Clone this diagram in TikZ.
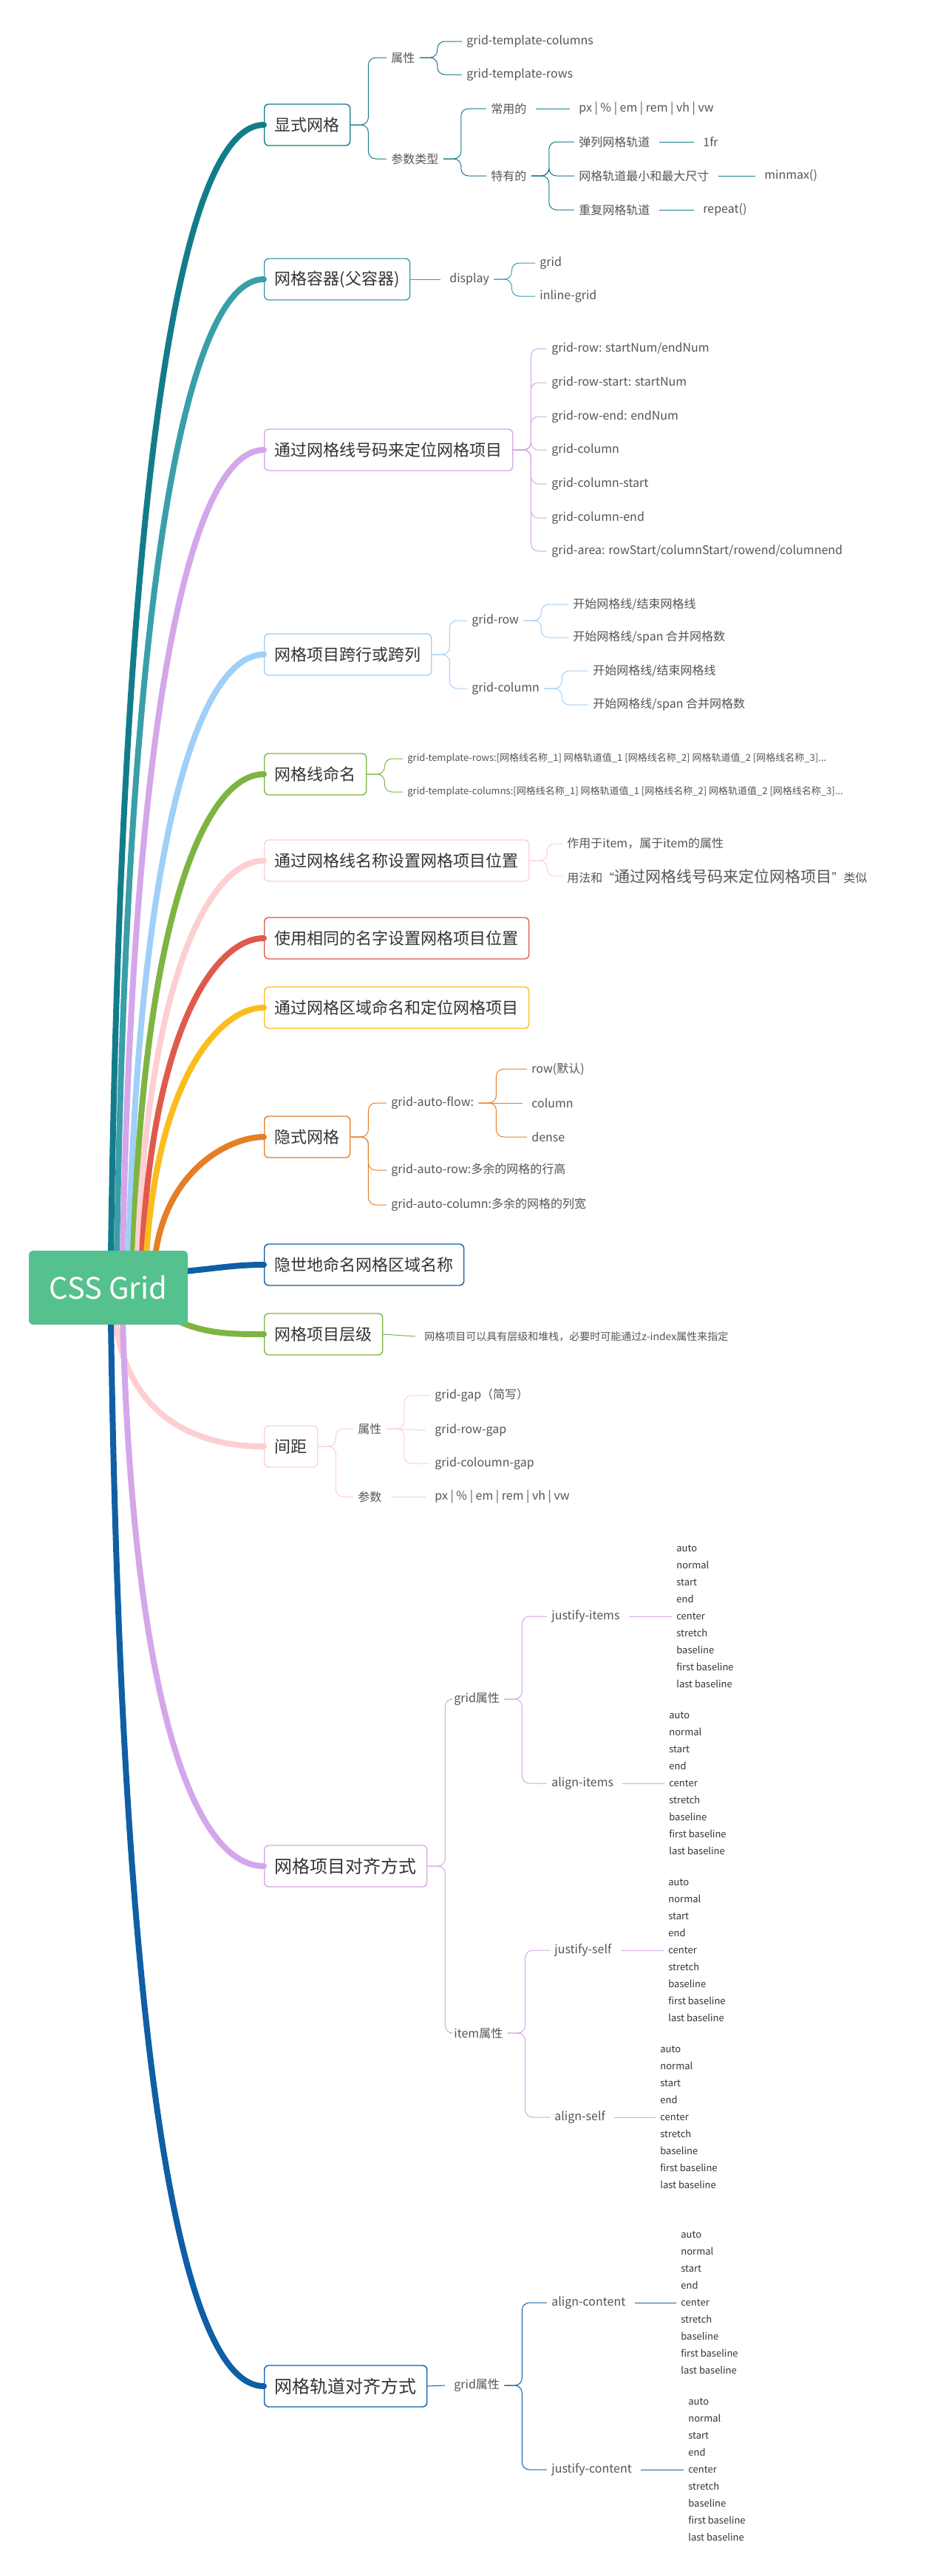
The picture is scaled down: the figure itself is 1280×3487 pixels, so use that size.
\documentclass[tikz,border=0pt]{standalone}
\usepackage{fontspec}
\setmainfont{Noto Sans CJK SC}
\definecolor{ca}{HTML}{137C8B}
\definecolor{cb}{HTML}{3A9FA8}
\definecolor{cc}{HTML}{D4A6EA}
\definecolor{cd}{HTML}{A0CFF7}
\definecolor{ce}{HTML}{7DB442}
\definecolor{cf}{HTML}{FDCFD1}
\definecolor{cg}{HTML}{E05A4B}
\definecolor{ch}{HTML}{FBBD1D}
\definecolor{ci}{HTML}{E57E25}
\definecolor{cj}{HTML}{0F5EA6}
\definecolor{rootc}{HTML}{55C18E}
\definecolor{boxt}{HTML}{333333}
\definecolor{subt}{HTML}{555555}
\newcommand\brc[3]{\draw[subl,draw=#1] (#2.east) -- ++(24,0) |- (#3.west);}
\newcommand\slc[3]{\draw[subl,draw=#1] ([xshift=3pt]#2.east) -- ([xshift=-3pt]#3.west);}
\newcommand\slb[3]{\draw[subl,draw=#1] (#2.east) -- ([xshift=-3pt]#3.west);}
\newcommand\mb[5]{\coordinate (s#5) at (#2,#3);
 \draw[mainb,draw=#1] (s#5) .. controls ({#2+15},{#4+0.28*(#3-#4)}) and ({#2+100},#4) .. (#5.west);}
\newcommand\alist{auto\\normal\\start\\end\\center\\stretch\\baseline\\first baseline\\last baseline}
\begin{document}
\begin{tikzpicture}[x=0.5pt,y=-0.5pt,
  box/.style={draw=#1, fill=white, rounded corners=3pt, line width=0.7pt, anchor=west,
    minimum height=28pt, inner xsep=7pt, text=boxt, font=\fontsize{11}{13}\selectfont},
  bigbox/.style={box=#1, font=\fontsize{12}{14}\selectfont},
  t/.style={anchor=west, inner sep=3pt, text=subt, font=\fontsize{8}{10}\selectfont},
  ts/.style={t, font=\fontsize{6.5}{8}\selectfont},
  vals/.style={anchor=west, inner sep=0pt, align=left, text=boxt, font=\fontsize{6.5}{11.5}\selectfont},
  subl/.style={line width=0.5pt, rounded corners=5pt},
  mainb/.style={line width=4pt, line cap=round}]
\useasboundingbox (0,0) rectangle (1280,3487);
\fill[white] (0,0) rectangle (1280,3487);
% B1
\node[box=ca] (b1) at (357,169) {显式网格};
\node[t] (a1) at (523,78) {属性};
\node[t] (a11) at (625,56) {grid-template-columns};
\node[t] (a12) at (625,101) {grid-template-rows};
\node[t] (a2) at (523,215) {参数类型};
\node[t] (a21) at (658,147) {常用的};
\node[t] (a211) at (777,147) {px | \% | em | rem | vh | vw};
\node[t] (a22) at (658,238) {特有的};
\node[t] (a221) at (777,192) {弹列网格轨道};
\node[t] (a2211) at (945,192) {1fr};
\node[t] (a222) at (777,238) {网格轨道最小和最大尺寸};
\node[t] (a2221) at (1028,238) {minmax()};
\node[t] (a223) at (777,284) {重复网格轨道};
\node[t] (a2231) at (945,284) {repeat()};
\brc{ca}{b1}{a1}\brc{ca}{b1}{a2}\brc{ca}{a1}{a11}\brc{ca}{a1}{a12}
\brc{ca}{a2}{a21}\brc{ca}{a2}{a22}\slc{ca}{a21}{a211}
\brc{ca}{a22}{a221}\brc{ca}{a22}{a222}\brc{ca}{a22}{a223}
\slc{ca}{a221}{a2211}\slc{ca}{a222}{a2221}\slc{ca}{a223}{a2231}
% B2
\node[box=cb] (b2) at (357,378) {网格容器(父容器)};
\node[t] (d1) at (602,378) {display};
\node[t] (d11) at (724,356) {grid};
\node[t] (d12) at (724,401) {inline-grid};
\slb{cb}{b2}{d1}\brc{cb}{d1}{d11}\brc{cb}{d1}{d12}
% B3
\node[box=cc] (b3) at (357,609) {通过网格线号码来定位网格项目};
\node[t] (n1) at (740,472) {grid-row: startNum/endNum};
\node[t] (n2) at (740,518) {grid-row-start: startNum};
\node[t] (n3) at (740,564) {grid-row-end: endNum};
\node[t] (n4) at (740,609) {grid-column};
\node[t] (n5) at (740,655) {grid-column-start};
\node[t] (n6) at (740,701) {grid-column-end};
\node[t] (n7) at (740,746) {grid-area: rowStart/columnStart/rowend/columnend};
\foreach \k in {1,...,7}{\brc{cc}{b3}{n\k}}
% B4
\node[box=cd] (b4) at (357,886) {网格项目跨行或跨列};
\node[t] (r1) at (632,840) {grid-row};
\node[t] (r11) at (769,818) {开始网格线/结束网格线};
\node[t] (r12) at (769,863) {开始网格线/span 合并网格数};
\node[t] (r2) at (632,932) {grid-column};
\node[t] (r21) at (796,908) {开始网格线/结束网格线};
\node[t] (r22) at (796,954) {开始网格线/span 合并网格数};
\brc{cd}{b4}{r1}\brc{cd}{b4}{r2}\brc{cd}{r1}{r11}\brc{cd}{r1}{r12}\brc{cd}{r2}{r21}\brc{cd}{r2}{r22}
% B5
\node[box=ce] (b5) at (357,1048) {网格线命名};
\node[ts] (m1) at (545,1027) {grid-template-rows:[网格线名称\_1] 网格轨道值\_1 [网格线名称\_2] 网格轨道值\_2 [网格线名称\_3]...};
\node[ts] (m2) at (545,1072) {grid-template-columns:[网格线名称\_1] 网格轨道值\_1 [网格线名称\_2] 网格轨道值\_2 [网格线名称\_3]...};
\brc{ce}{b5}{m1}\brc{ce}{b5}{m2}
% B6
\node[box=cf] (b6) at (357,1165) {通过网格线名称设置网格项目位置};
\node[t] (p1) at (761,1142) {作用于item，属于item的属性};
\node[t] (p2) at (761,1186) {用法和“{\fontsize{10.5}{12}\selectfont 通过网格线号码来定位网格项目}”类似};
\brc{cf}{b6}{p1}\brc{cf}{b6}{p2}
% B7 B8
\node[box=cg] (b7) at (357,1270) {使用相同的名字设置网格项目位置};
\node[box=ch] (b8) at (357,1364) {通过网格区域命名和定位网格项目};
% B9
\node[box=ci] (b9) at (357,1539) {隐式网格};
\node[t] (f1) at (523,1493) {grid-auto-flow:};
\node[t] (f11) at (713,1447) {row(默认)};
\node[t] (f12) at (713,1493) {column};
\node[t] (f13) at (713,1539) {dense};
\node[t] (f2) at (523,1584) {grid-auto-row:多余的网格的行高};
\node[t] (f3) at (523,1631) {grid-auto-column:多余的网格的列宽};
\brc{ci}{b9}{f1}\brc{ci}{b9}{f2}\brc{ci}{b9}{f3}
\brc{ci}{f1}{f11}\slc{ci}{f1}{f12}\brc{ci}{f1}{f13}
% B10 B11
\node[box=cj] (b10) at (357,1712) {隐世地命名网格区域名称};
\node[box=ce] (b11) at (357,1806) {网格项目层级};
\node[anchor=west, inner sep=3pt, text=subt, font=\fontsize{7}{9}\selectfont] (l1) at (568,1809) {网格项目可以具有层级和堆栈，必要时可能通过z-index属性来指定};
\slb{ce}{b11}{l1}
% B12
\node[box=cf] (b12) at (357,1958) {间距};
\node[t] (g1) at (478,1934) {属性};
\node[t] (g11) at (582,1889) {grid-gap（简写）};
\node[t] (g12) at (582,1936) {grid-row-gap};
\node[t] (g13) at (582,1981) {grid-coloumn-gap};
\node[t] (g2) at (478,2026) {参数};
\node[t] (g21) at (582,2026) {px | \% | em | rem | vh | vw};
\brc{cf}{b12}{g1}\brc{cf}{b12}{g2}\brc{cf}{g1}{g11}\slc{cf}{g1}{g12}\brc{cf}{g1}{g13}\slc{cf}{g2}{g21}
% B13
\node[bigbox=cc] (b13) at (357,2526) {网格项目对齐方式};
\node[t] (h1) at (608,2300) {grid属性};
\node[t] (h2) at (608,2752) {item属性};
\node[t] (h11) at (740,2188) {justify-items};
\node[vals] (v11) at (915,2188) {\alist};
\node[t] (h12) at (740,2414) {align-items};
\node[vals] (v12) at (905,2414) {\alist};
\node[t] (h21) at (744,2640) {justify-self};
\node[vals] (v21) at (904,2640) {\alist};
\node[t] (h22) at (744,2866) {align-self};
\node[vals] (v22) at (893,2866) {\alist};
\brc{cc}{b13}{h1}\brc{cc}{b13}{h2}\brc{cc}{h1}{h11}\brc{cc}{h1}{h12}\brc{cc}{h2}{h21}\brc{cc}{h2}{h22}
\slc{cc}{h11}{v11}\slc{cc}{h12}{v12}\slc{cc}{h21}{v21}\slc{cc}{h22}{v22}
% B14
\node[bigbox=cj] (b14) at (357,3230) {网格轨道对齐方式};
\node[t] (k1) at (608,3229) {grid属性};
\node[t] (k11) at (740,3117) {align-content};
\node[vals] (w11) at (921,3117) {\alist};
\node[t] (k12) at (740,3343) {justify-content};
\node[vals] (w12) at (931,3343) {\alist};
\slb{cj}{b14}{k1}\brc{cj}{k1}{k11}\brc{cj}{k1}{k12}
\slc{cj}{k11}{w11}\slc{cj}{k12}{w12}
% main branches
\mb{ca}{150}{1700}{169}{b1}
\mb{cb}{158}{1700}{378}{b2}
\mb{cc}{166}{1700}{609}{b3}
\mb{cd}{174}{1700}{886}{b4}
\mb{ce}{180}{1700}{1048}{b5}
\mb{cf}{186}{1700}{1165}{b6}
\mb{cg}{192}{1700}{1270}{b7}
\mb{ch}{198}{1700}{1364}{b8}
\mb{ci}{210}{1700}{1539}{b9}
\coordinate (sb10) at (240,1722);
\draw[mainb,draw=cj] (sb10) .. controls (300,1716) and (320,1712) .. (b10.west);
\coordinate (sb11) at (225,1780);
\draw[mainb,draw=ce] (sb11) .. controls (270,1806) and (310,1806) .. (b11.west);
\mb{cf}{156}{1786}{1958}{b12}
\mb{cc}{166}{1786}{2526}{b13}
\mb{cj}{150}{1786}{3230}{b14}
% root
\node[fill=rootc, rounded corners=3pt, minimum width=107.5pt, minimum height=50pt, text=white,
  font=\fontsize{20}{24}\selectfont] (root) at (146.5,1743) {CSS Grid};
\end{tikzpicture}
\end{document}
